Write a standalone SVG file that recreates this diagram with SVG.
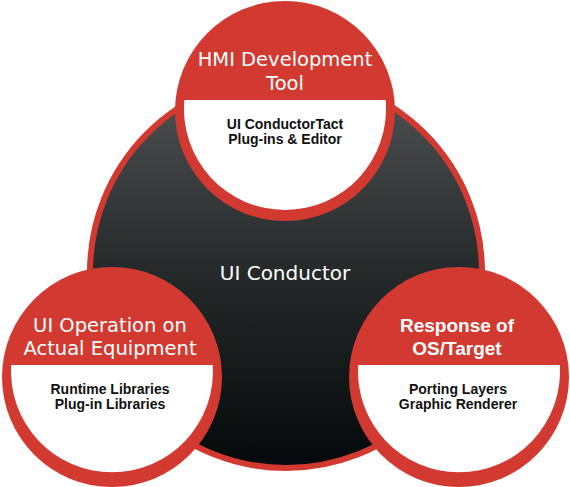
<svg xmlns="http://www.w3.org/2000/svg" width="570" height="487" viewBox="0 0 570 487">
  <defs>
    <linearGradient id="core" x1="0" y1="73" x2="0" y2="471" gradientUnits="userSpaceOnUse">
      <stop offset="0" stop-color="#525454"/>
      <stop offset="0.5" stop-color="#25292a"/>
      <stop offset="1" stop-color="#03090a"/>
    </linearGradient>
  </defs>
  <style>
    .ring { fill: #d23a31; }
    .inner { fill: #ffffff; }
    .title { font-family: "DejaVu Sans", "Liberation Sans", sans-serif; font-size: 19.5px; fill: #ffffff; text-anchor: middle; }
    .title-b { font-family: "Liberation Sans", Arial, sans-serif; font-weight: bold; font-size: 19px; fill: #ffffff; text-anchor: middle; }
    .sub { font-family: "Liberation Sans", Arial, sans-serif; font-weight: bold; font-size: 14px; fill: #111111; text-anchor: middle; }
  </style>
  <rect width="570" height="487" fill="#ffffff"/>

  <g id="ui-conductor">
    <circle cx="286" cy="272" r="196" fill="url(#core)" stroke="#d23a31" stroke-width="6"/>
    <text class="title" x="285" y="280" style="font-size:20px">UI Conductor</text>
  </g>

  <g id="hmi-development-tool">
    <circle class="ring" cx="285" cy="111" r="110"/>
    <path class="inner" d="M184.4,100 H385.6 A101,101 0 1 1 184.4,100 Z"/>
    <text class="title" x="285" y="66">HMI Development</text>
    <text class="title" x="285" y="90">Tool</text>
    <text class="sub" x="285" y="129">UI ConductorTact</text>
    <text class="sub" x="285" y="143.5">Plug-ins &amp; Editor</text>
  </g>

  <g id="ui-operation">
    <circle class="ring" cx="112" cy="377" r="110"/>
    <path class="inner" d="M11.2,365 H212.8 A101,101 0 1 1 11.2,365 Z"/>
    <text class="title" x="110" y="332">UI Operation on</text>
    <text class="title" x="110" y="355">Actual Equipment</text>
    <text class="sub" x="110" y="394">Runtime Libraries</text>
    <text class="sub" x="110" y="409">Plug-in Libraries</text>
  </g>

  <g id="response-os-target">
    <circle class="ring" cx="459" cy="377" r="110"/>
    <path class="inner" d="M358.2,365 H559.8 A101,101 0 1 1 358.2,365 Z"/>
    <text class="title-b" x="457" y="332">Response of</text>
    <text class="title-b" x="457" y="355">OS/Target</text>
    <text class="sub" x="458" y="394">Porting Layers</text>
    <text class="sub" x="458" y="409">Graphic Renderer</text>
  </g>
</svg>
